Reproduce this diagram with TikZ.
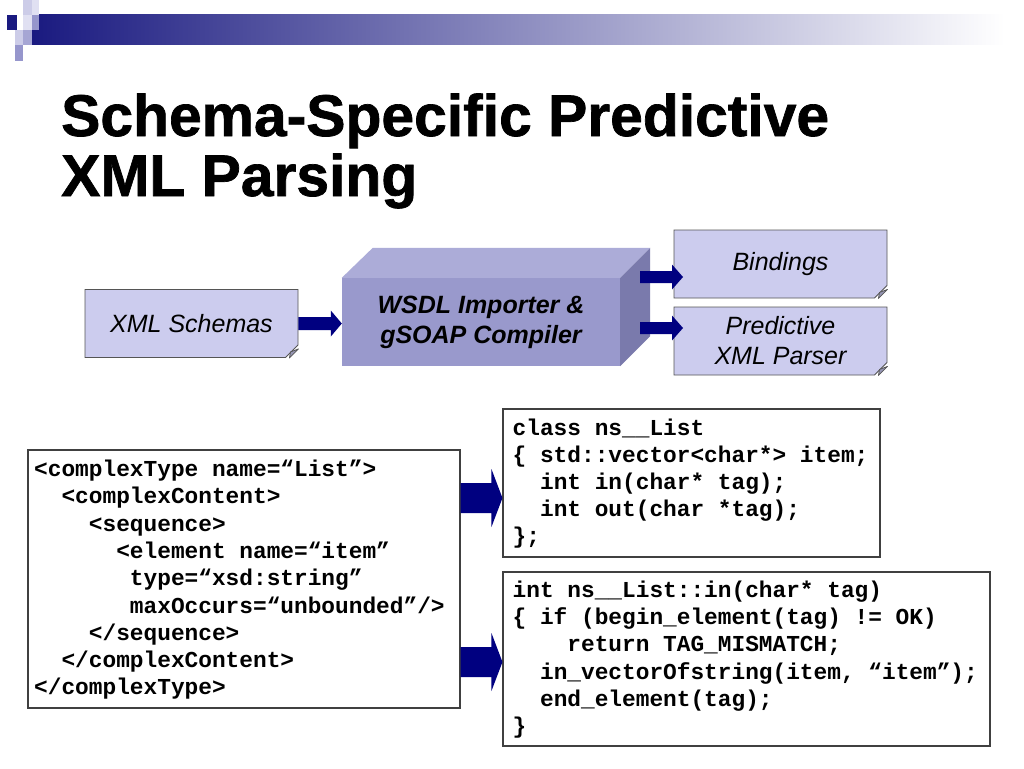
\documentclass[tikz,border=0pt]{standalone}
\usepackage{fontspec}
\setmainfont{Liberation Sans}
\newfontfamily\codefont{Liberation Mono}
\newfontfamily\titlefont{Liberation Sans Bold}[FakeBold=1.2]
\usetikzlibrary{shapes.misc,calc}
\definecolor{lav}{RGB}{204,204,238}
\definecolor{frontc}{RGB}{153,153,204}
\definecolor{topc}{RGB}{172,172,216}
\definecolor{sidec}{RGB}{122,122,172}
\definecolor{navy}{RGB}{0,0,128}
\definecolor{darknavy}{RGB}{26,26,128}
\definecolor{bord}{RGB}{85,85,85}
\definecolor{codebord}{RGB}{64,64,64}
\definecolor{foldc}{RGB}{150,150,180}
\definecolor{sqA}{RGB}{204,204,232}
\definecolor{sqB}{RGB}{224,224,242}
\definecolor{sqC}{RGB}{150,150,204}
\newcommand\blockarr[5]{%
  \fill[navy] ($(#1)+(0,-#3)$) -- ($(#2)+(-#5,-#3)$) -- ($(#2)+(-#5,-#4)$) -- (#2)
    -- ($(#2)+(-#5,#4)$) -- ($(#2)+(-#5,#3)$) -- ($(#1)+(0,#3)$) -- cycle;}
\newcommand\foldat[1]{%
  \filldraw[fill=foldc, draw=bord, line width=0.8pt, line join=round]
    ($(#1.south -| #1.east)+(-9,0)$) -- ($(#1.south -| #1.east)+(0,-9)$)
    -- ($(#1.south -| #1.east)+(-8,-6)$) -- cycle;}
\begin{document}
\begin{tikzpicture}[x=1pt,y=-1pt,
  title/.style={anchor=base west, inner sep=0pt, font=\titlefont\fontsize{58.8}{60}\selectfont},
  docbox/.style={chamfered rectangle, chamfered rectangle corners=south east,
    chamfered rectangle xsep=9pt, fill=lav, draw=bord, line width=0.9pt,
    minimum width=213pt, minimum height=68pt, inner sep=0pt, align=center,
    font=\fontsize{25}{30}\selectfont\itshape},
  codebox/.style={rectangle, draw=codebord, line width=1.1pt, fill=white, inner sep=0pt},
  code/.style={anchor=base west, inner sep=0pt, font=\codefont\bfseries\fontsize{22.8}{27}\selectfont}
]
\useasboundingbox (0,0) rectangle (1024,768);
\fill[white] (0,0) rectangle (1024,768);

% header decoration
\shade[left color=darknavy, right color=white] (32,15) rectangle (1005,45);
\fill[sqA] (23,0) rectangle (32,15);
\fill[sqB] (32,0) rectangle (39,15);
\fill[darknavy] (7,15) rectangle (17,30);
\fill[sqB] (23,15) rectangle (32,30);
\fill[sqC] (32,15) rectangle (39,30);
\fill[sqA] (15,30) rectangle (23,45);
\fill[sqC!85!white] (23,30) rectangle (32,45);
\fill[sqC] (15,45) rectangle (23,61);

% title
\node[title] (title1) at (61,136) {Schema-Specific Predictive};
\node[title] (title2) at (61,196) {XML Parsing};

% top diagram
\node[docbox] (schemas) at (191.5,323.5) {XML Schemas};
\foldat{schemas}
\node[fill=frontc, minimum width=278pt, minimum height=88pt, inner sep=0pt, align=center,
  font=\fontsize{25}{30}\selectfont\bfseries\itshape] (compiler) at (481,322)
  {WSDL Importer \&\\gSOAP Compiler};
\fill[topc] (compiler.north west) -- ++(31,-30) -- ($(compiler.north east)+(30,-30)$)
  -- (compiler.north east) -- cycle;
\fill[sidec] (compiler.north east) -- ++(30,-30) -- ($(compiler.south east)+(30,-30)$)
  -- (compiler.south east) -- cycle;
\node[docbox] (bindings) at (780.5,264) {Bindings};
\foldat{bindings}
\node[docbox] (parser) at (780.5,341) {Predictive\\XML Parser};
\foldat{parser}

\coordinate (a0end) at (compiler.west |- schemas.east);
\blockarr{schemas.east}{a0end}{6.5}{13}{11}
\coordinate (a1s) at (640,277);
\coordinate (a1e) at (683,277);
\blockarr{a1s}{a1e}{6}{12.5}{11}
\coordinate (a2s) at (640,328);
\coordinate (a2e) at (683,328);
\blockarr{a2s}{a2e}{6}{12.5}{11}

% code boxes
\node[codebox, minimum width=432pt, minimum height=258pt] (xmlbox) at (244,579) {};
\node[codebox, minimum width=377pt, minimum height=148pt] (classbox) at (691.5,483) {};
\node[codebox, minimum width=487pt, minimum height=174pt] (funcbox) at (746.5,659) {};

\foreach \txt [count=\i] in {%
  {<complexType name=“List”>},
  {\hphantom{xx}<complexContent>},
  {\hphantom{xxxx}<sequence>},
  {\hphantom{xxxxxx}<element name=“item”},
  {\hphantom{xxxxxxx}type=“xsd:string”},
  {\hphantom{xxxxxxx}maxOccurs=“unbounded”/>},
  {\hphantom{xxxx}</sequence>},
  {\hphantom{xx}</complexContent>},
  {</complexType>}}
  \node[code] (xml\i) at (34,476.5+27.3*\i-27.3) {\txt};

\foreach \txt [count=\i] in {%
  {class ns\_\_List},
  {\{ std::vector<char*> item;},
  {\hphantom{xx}int in(char* tag);},
  {\hphantom{xx}int out(char *tag);},
  {\};}}
  \node[code] (cls\i) at (512.5,435.5+27*\i-27) {\txt};

\foreach \txt [count=\i] in {%
  {int ns\_\_List::in(char* tag)},
  {\{ if (begin\_element(tag) != OK)},
  {\hphantom{xxxx}return TAG\_MISMATCH;},
  {\hphantom{xx}in\_vectorOfstring(item, “item”);},
  {\hphantom{xx}end\_element(tag);},
  {\}}}
  \node[code] (fn\i) at (512.5,597.5+27.2*\i-27.2) {\txt};

\coordinate (b1y) at (0,498);
\coordinate (b1s) at (xmlbox.east |- b1y);
\coordinate (b1e) at (classbox.west |- b1y);
\blockarr{b1s}{b1e}{15}{29}{11}
\coordinate (b2y) at (0,662);
\coordinate (b2s) at (xmlbox.east |- b2y);
\coordinate (b2e) at (funcbox.west |- b2y);
\blockarr{b2s}{b2e}{15}{29}{11}
\end{tikzpicture}
\end{document}
